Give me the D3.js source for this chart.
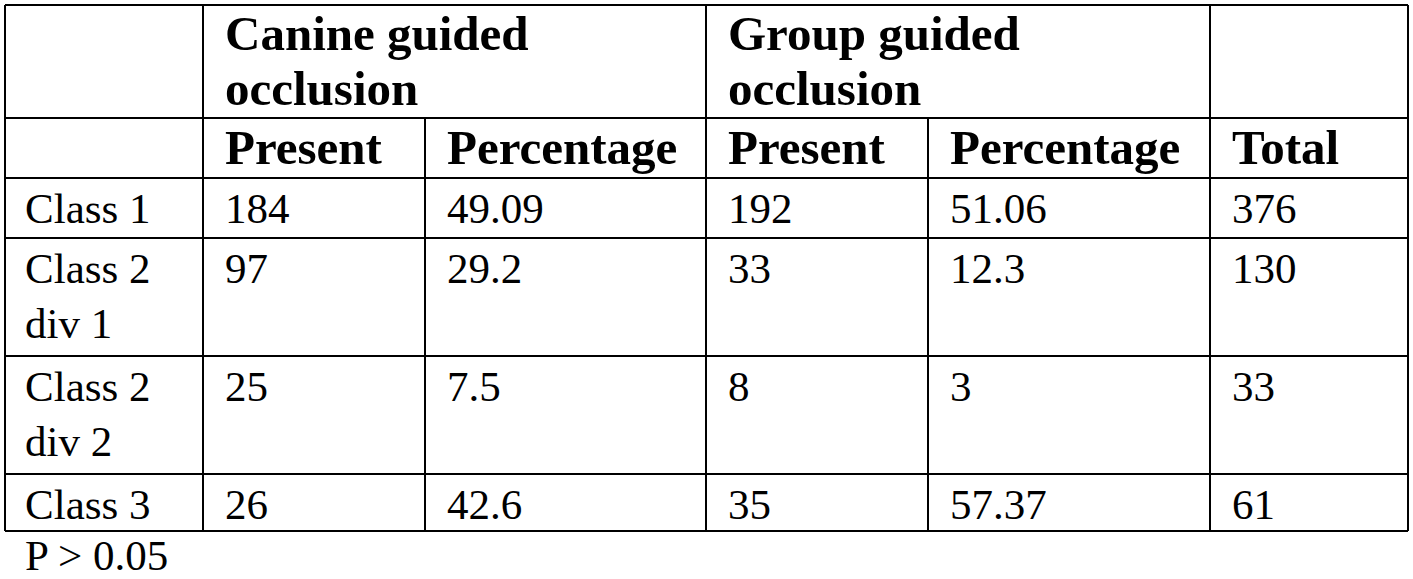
<!DOCTYPE html>
<html><head><meta charset="utf-8">
<script src="https://cdn.jsdelivr.net/npm/d3@7"></script>
<style>body{margin:0;background:#fff}</style></head>
<body><svg id="c" width="1413" height="579"></svg>
<script>
const categories = [["Class 1"],["Class 2","div 1"],["Class 2","div 2"],["Class 3"]];
const caninePresent = ["184","97","25","26"];
const caninePct = ["49.09","29.2","7.5","42.6"];
const groupPresent = ["192","33","8","35"];
const groupPct = ["51.06","12.3","3","57.37"];
const totals = ["376","130","33","61"];
const groupHeaders = [["Canine guided","occlusion"],["Group guided","occlusion"]];
const subHeaders = ["Present","Percentage","Present","Percentage","Total"];
const note = "P > 0.05";

const svg = d3.select("#c");
const colX = [5,203,425,706,928,1210,1408];
const rowY = [5,118,178,238,356,474,531];
const font = "Liberation Serif, Times New Roman, serif";
const fs = 43, fsB = 49, lh = 55, padX = 22, first = 45;

function txt(x,y,lines,bold){
  const t = svg.append("text").attr("x",x).attr("y",y).attr("font-family",font)
   .attr("font-size",bold?fsB:fs).attr("font-weight",bold?"bold":"normal").attr("fill","#000");
  lines.forEach((l,i)=>t.append("tspan").attr("x",x).attr("dy",i?lh:0).text(l));
}
const g = svg.append("g").attr("stroke","#000").attr("stroke-width",2);
rowY.forEach(y=>g.append("line").attr("x1",colX[0]).attr("x2",colX[6]).attr("y1",y).attr("y2",y));
colX.forEach((x,i)=>{
  if(i===2||i===4) g.append("line").attr("x1",x).attr("x2",x).attr("y1",rowY[1]).attr("y2",rowY[6]);
  else g.append("line").attr("x1",x).attr("x2",x).attr("y1",rowY[0]).attr("y2",rowY[6]);
});
txt(colX[1]+padX,rowY[0]+first,groupHeaders[0],true);
txt(colX[3]+padX,rowY[0]+first,groupHeaders[1],true);
subHeaders.forEach((h,i)=>txt(colX[i+1]+padX,rowY[1]+first+1,[h],true));
categories.forEach((c,r)=>{
  const y = rowY[r+2]+first;
  txt(colX[0]+padX-2,y,c,false);
  [caninePresent,caninePct,groupPresent,groupPct,totals].forEach((arr,j)=>txt(colX[j+1]+padX,y,[arr[r]],false));
});
txt(colX[0]+padX-2,rowY[6]+first-6,[note],false);
</script></body></html>
